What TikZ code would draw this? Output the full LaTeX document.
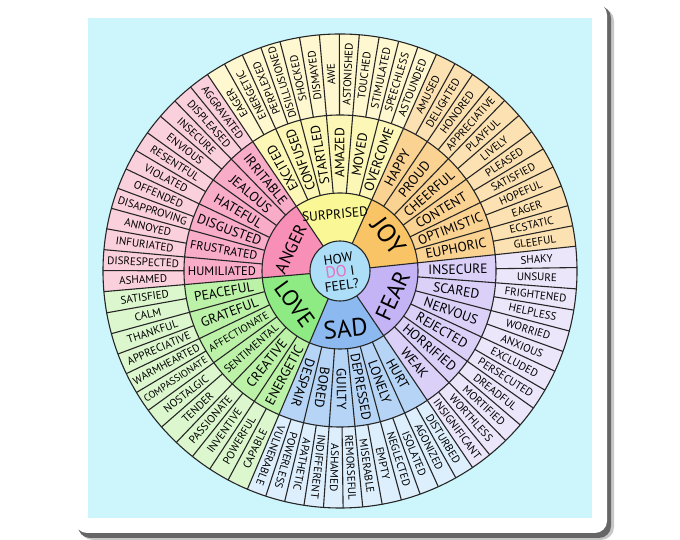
\documentclass[tikz,border=0pt]{standalone}
\usepackage{fontspec}
\setmainfont{PT Sans}
\usepackage{graphicx}
\newsavebox\fitbx
\newcommand\fitw[2]{\sbox\fitbx{#2}\ifdim\wd\fitbx>#1\relax\resizebox{#1}{!}{\usebox\fitbx}\else\usebox\fitbx\fi}
\definecolor{bgblue}{RGB}{204,245,252}
\definecolor{angC}{RGB}{247,143,182}
\definecolor{angM}{RGB}{248,172,200}
\definecolor{angO}{RGB}{251,208,221}
\definecolor{surC}{RGB}{250,247,150}
\definecolor{surM}{RGB}{252,247,182}
\definecolor{surO}{RGB}{254,247,208}
\definecolor{joyC}{RGB}{248,196,102}
\definecolor{joyM}{RGB}{250,210,145}
\definecolor{joyO}{RGB}{252,226,178}
\definecolor{feaC}{RGB}{196,180,245}
\definecolor{feaM}{RGB}{218,208,248}
\definecolor{feaO}{RGB}{236,230,251}
\definecolor{sadC}{RGB}{140,186,240}
\definecolor{sadM}{RGB}{182,213,246}
\definecolor{sadO}{RGB}{221,238,252}
\definecolor{lovC}{RGB}{142,234,130}
\definecolor{lovM}{RGB}{188,242,168}
\definecolor{lovO}{RGB}{220,247,206}
\definecolor{ctrC}{RGB}{172,222,248}
\definecolor{dopink}{RGB}{232,110,190}
\tikzset{
  ring/.style={draw=black!85, line width=1.1pt},
  outtxt/.style={font=\fontsize{11}{11}\selectfont, inner sep=0pt},
  midtxt/.style={font=\fontsize{13.5}{13.5}\selectfont, inner sep=0pt},
  coretxt/.style={font=\fontsize{23}{23}\selectfont, inner sep=0pt},
}
\newcommand\wedgefill[4]{%
  \fill[#4] (0,0) -- (#1:#3pt) arc[start angle=#1, end angle=#2, radius=#3pt] -- cycle;}
\newcommand\sectorlines[2]{%
  \foreach \k in {1,...,5}{
    \pgfmathsetmacro\ang{#1+\k*(#2-#1)/6}
    \draw[ring] (\ang:78pt) -- (\ang:237pt);
  }
  \foreach \k in {1,...,6}{
    \pgfmathsetmacro\ang{#1+(2*\k-1)*(#2-#1)/12}
    \draw[ring] (\ang:156pt) -- (\ang:237pt);
  }
}
\newcommand\sectortext[6]{%
  \foreach \w [count=\i] in {#4}{
    \pgfmathsetmacro\ang{#1+(\i-0.5)*(#2-#1)/6}
    \pgfmathsetmacro\rot{\ang+#3}
    \node[midtxt, rotate=\rot] (m#6\i) at (\ang:118pt) {\fitw{68pt}{\w}};
  }
  \foreach \w [count=\i] in {#5}{
    \pgfmathsetmacro\ang{#1+(\i-0.5)*(#2-#1)/12}
    \pgfmathsetmacro\rot{\ang+#3}
    \node[outtxt, rotate=\rot] (o#6\i) at (\ang:197pt) {\fitw{74pt}{\w}};
  }
}
\begin{document}
\begin{tikzpicture}[x=1pt,y=1pt]
\useasboundingbox (0,0) rectangle (680,540);
\fill[white] (0,0) rectangle (680,540);
% sticker
\fill[black!22, rounded corners=13pt] (80,0) rectangle (614,532);
\fill[black!60, rounded corners=12pt] (78,2) rectangle (611,534);
\fill[white, rounded corners=12pt] (75,7) rectangle (607,537);
\fill[bgblue] (88,22) rectangle (592,522);
\begin{scope}[shift={(340,269)}]
  % outer ring fills
  \wedgefill{66}{124}{237}{surO}
  \wedgefill{6}{66}{237}{joyO}
  \wedgefill{-56}{6}{237}{feaO}
  \wedgefill{-113}{-56}{237}{sadO}
  \wedgefill{-175}{-113}{237}{lovO}
  \wedgefill{124}{185}{237}{angO}
  % middle ring fills
  \wedgefill{66}{124}{156}{surM}
  \wedgefill{6}{66}{156}{joyM}
  \wedgefill{-56}{6}{156}{feaM}
  \wedgefill{-113}{-56}{156}{sadM}
  \wedgefill{-175}{-113}{156}{lovM}
  \wedgefill{124}{185}{156}{angM}
  % core fills
  \wedgefill{66}{124}{78}{surC}
  \wedgefill{6}{66}{78}{joyC}
  \wedgefill{-56}{6}{78}{feaC}
  \wedgefill{-113}{-56}{78}{sadC}
  \wedgefill{-175}{-113}{78}{lovC}
  \wedgefill{124}{185}{78}{angC}
  % circles
  \draw[ring] (0,0) circle[radius=237pt];
  \draw[ring] (0,0) circle[radius=156pt];
  \draw[ring] (0,0) circle[radius=78pt];
  % core boundaries
  \foreach \a in {124,66,6,-56,-113,185}{
    \draw[ring] (\a:30pt) -- (\a:237pt);
  }
  \sectorlines{124}{66}
  \sectorlines{66}{6}
  \sectorlines{6}{-56}
  \sectorlines{-56}{-113}
  \sectorlines{-113}{-175}
  \sectorlines{185}{124}
  % centre
  \fill[ctrC] (0,0) circle[radius=30pt];
  \draw[ring] (0,0) circle[radius=30pt];
  \node[rotate=8, align=center, inner sep=0pt, font=\fontsize{13.5}{13.5}\selectfont] (ctr) at (0,-1) {HOW\\{\color{dopink}\fontsize{16}{16}\selectfont DO} I\\FEEL?};
  % texts
  \sectortext{124}{66}{0}{EXCITED,CONFUSED,STARTLED,AMAZED,MOVED,OVERCOME}{EAGER,ENERGETIC,PERPLEXED,DISILLUSIONED,SHOCKED,DISMAYED,AWE,ASTONISHED,TOUCHED,STIMULATED,SPEECHLESS,ASTOUNDED}{s}
  \sectortext{66}{6}{0}{HAPPY,PROUD,CHEERFUL,CONTENT,OPTIMISTIC,EUPHORIC}{AMUSED,DELIGHTED,HONORED,APPRECIATIVE,PLAYFUL,LIVELY,PLEASED,SATISFIED,HOPEFUL,EAGER,ECSTATIC,GLEEFUL}{j}
  \sectortext{6}{-56}{0}{INSECURE,SCARED,NERVOUS,REJECTED,HORRIFIED,WEAK}{SHAKY,UNSURE,FRIGHTENED,HELPLESS,WORRIED,ANXIOUS,EXCLUDED,PERSECUTED,DREADFUL,MORTIFIED,WORTHLESS,INSIGNIFICANT}{f}
  \sectortext{-56}{-113}{0}{HURT,LONELY,DEPRESSED,GUILTY,BORED,DESPAIR}{DISTURBED,AGONIZED,ISOLATED,NEGLECTED,EMPTY,MISERABLE,REMORSEFUL,ASHAMED,INDIFFERENT,APATHETIC,POWERLESS,VULNERABLE}{d}
  \sectortext{-113}{-175}{180}{ENERGETIC,CREATIVE,SENTIMENTAL,AFFECTIONATE,GRATEFUL,PEACEFUL}{CAPABLE,POWERFUL,INVENTIVE,PASSIONATE,TENDER,NOSTALGIC,COMPASSIONATE,WARMHEARTED,APPRECIATIVE,THANKFUL,CALM,SATISFIED}{l}
  \sectortext{185}{124}{180}{HUMILIATED,FRUSTRATED,DISGUSTED,HATEFUL,JEALOUS,IRRITABLE}{ASHAMED,DISRESPECTED,INFURIATED,ANNOYED,DISAPPROVING,OFFENDED,VIOLATED,RESENTFUL,ENVIOUS,INSECURE,DISPLEASED,AGGRAVATED}{a}
  % core labels
  \node[coretxt, rotate=64.5] (anger) at (156:54pt) {\fitw{52pt}{ANGER}};
  \node[coretxt, rotate=5, font=\fontsize{18}{18}\selectfont] (surprised) at (95:57pt) {\fitw{66pt}{SURPRISED}};
  \node[coretxt, rotate=-54, font=\fontsize{26}{26}\selectfont] (joy) at (36:60pt) {JOY};
  \node[coretxt, rotate=65] (fear) at (-25:58pt) {FEAR};
  \node[coretxt, rotate=5.5, font=\fontsize{25}{25}\selectfont] (sad) at (-84.5:58pt) {SAD};
  \node[coretxt, rotate=-54] (love) at (-144:56pt) {LOVE};
\end{scope}
\end{tikzpicture}
\end{document}
